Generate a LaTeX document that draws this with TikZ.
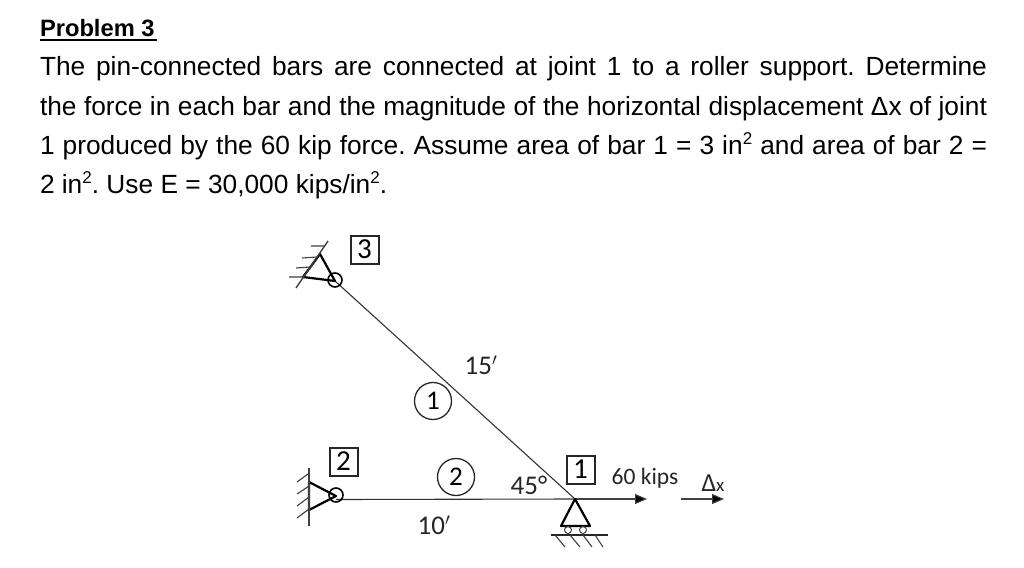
\documentclass[tikz,border=0pt]{standalone}
\usepackage{fontspec}
\setmainfont{Liberation Sans}
\newfontfamily\labelfont{Carlito}
\usetikzlibrary{arrows.meta}
\newcommand{\sq}{\raisebox{9.5pt}{\fontsize{17}{18}\selectfont 2}}
\frenchspacing
\tikzset{
  txt/.style={anchor=base west,inner sep=0pt,outer sep=0pt,font=\fontsize{26.3}{30}\selectfont},
  lab/.style={inner sep=0pt,font=\labelfont\fontsize{27}{30}\selectfont,text=black!85},
  boxnum/.style={draw=black!85,line width=2pt,minimum size=28pt,inner sep=0pt,font=\labelfont\fontsize{29}{30}\selectfont},
  barnum/.style={draw=black!85,line width=1.3pt,circle,minimum size=37pt,inner sep=0pt,font=\labelfont\fontsize{27}{30}\selectfont},
  bar/.style={draw=black!80,line width=1.1pt},
  sup/.style={draw=black,line width=2.2pt,line join=round},
  hatch/.style={draw=black!75,line width=1.1pt},
  pin/.style={draw=black,line width=1.6pt,circle,minimum size=14pt,inner sep=0pt},
  force/.style={draw=black!75,line width=1.1pt,-{Triangle[length=12pt,width=10pt,fill=black]}}
}
\begin{document}
\begin{tikzpicture}[x=1pt,y=-1pt]
\useasboundingbox (0,0) rectangle (1024,567);
\fill[white] (0,0) rectangle (1024,567);
% text
\node[txt,font=\bfseries\fontsize{23.7}{28}\selectfont] (title) at (40,36.5) {Problem 3};
\draw[black,line width=1.5pt] (title.base west)++(0,3.5) -- ++(116.5,0);
\node[txt] (l1) at (40,76) {\makebox[947pt][s]{The pin-connected bars are connected at joint 1 to a roller support. Determine}};
\node[txt] (l2) at (40,115) {\makebox[947pt][s]{the force in each bar and the magnitude of the horizontal displacement Δx of joint}};
\node[txt] (l3) at (40,154) {\makebox[947pt][s]{1 produced by the 60 kip force. Assume area of bar 1 = 3 in\sq{} and area of bar 2 =}};
\node[txt] (l4) at (40,193) {2 in\sq. Use E = 30,000 kips/in\sq.};
% joints
\coordinate (j3) at (335,281);
\coordinate (j2) at (336,499.5);
\coordinate (j1) at (575,499);
\coordinate (tip) at (647,499);
\coordinate (ds) at (681,499);
\coordinate (de) at (724,499);
% bars
\path[bar] (j3) -- (j1);
\path[bar] (j2) -- (j1);
\path[force] (j1) -- (tip);
\path[force] (ds) -- (de);
% support 3
\draw[sup] (j3) -- (320,254) -- (303,277) -- cycle;
\draw[hatch,line width=1.4pt] (328,241) -- (296,288);
\draw[hatch] (311,246) -- (325,246) (302,258) -- (317,257) (296,268) -- (310,267) (289,277) -- (303,277);
\node[pin] (p3) at (335,280) {};
% support 2
\draw[sup] (336,496) -- (309,482) -- (309,510) -- cycle;
\draw[hatch,line width=1.4pt] (309,468) -- (309,526);
\draw[hatch] (297,482) -- (308,474) (297,494) -- (309,486) (297,506) -- (309,497) (297,518) -- (309,509);
\node[pin] (p2) at (336,495) {};
% support 1
\draw[sup] (575,499) -- (561,526) -- (590,526) -- cycle;
\draw[hatch,line width=1pt] (568,530) circle (3.5) (583,530) circle (3.5);
\draw[black!85,line width=1.4pt] (551,535) -- (608,535);
\draw[hatch] (555,535) -- (565,547) (570,535) -- (580,547) (583,535) -- (592,547) (595,535) -- (603,547);
% labels
\node[boxnum] (b3) at (364.5,249.5) {3};
\node[boxnum] (b2) at (343.5,461.5) {2};
\node[boxnum] (b1) at (580.5,469.5) {1};
\node[barnum] (c1) at (433,401) {1};
\node[barnum] (c2) at (456,477) {2};
\node[lab] (a15) at (481,365) {15$'$};
\node[lab] (a10) at (434,525) {10$'$};
\node[lab] (a45) at (529,485) {45°};
\node[lab,font=\labelfont\fontsize{23.5}{26}\selectfont] (k60) at (645,478) {60 kips};
\node[lab,font=\labelfont\fontsize{26}{26}\selectfont] (dx) at (713,483) {Δ{\fontsize{19}{20}\selectfont x}};
\end{tikzpicture}
\end{document}
